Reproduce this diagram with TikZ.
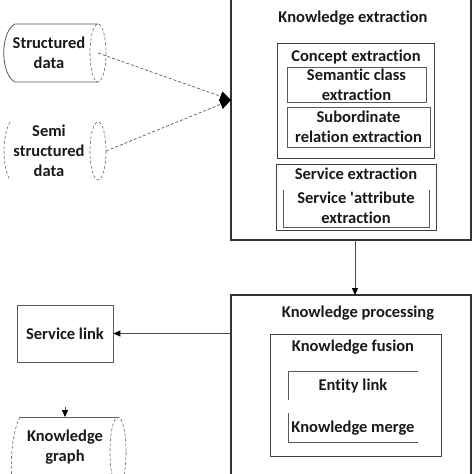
\documentclass[tikz,border=0pt]{standalone}
\usepackage{fontspec}
\setmainfont{Carlito}[Ligatures=NoCommon]
\usetikzlibrary{arrows.meta}
\tikzset{
  every node/.style={font=\bfseries\fontsize{16.5}{20}\selectfont,align=center,inner sep=0pt,text=black!90},
  bigbox/.style={draw=black!80,line width=1.4pt},
  box/.style={draw=black!75,line width=1pt},
  thinbox/.style={draw=black!65,line width=0.8pt},
  lens/.style={draw=black!60,line width=0.6pt,dash pattern=on 3pt off 2pt},
  dasharrow/.style={draw=black!65,line width=0.7pt,dash pattern=on 3pt off 2pt},
  flow/.style={draw=black!70,line width=0.9pt,-{Triangle[length=7pt,width=6pt,color=black]}}
}
\begin{document}
\begin{tikzpicture}[x=1pt,y=-1pt]
\useasboundingbox (0,0) rectangle (474,474);
\clip (0,0) rectangle (474,474);
% data stores
\draw[thinbox] (98,24) -- (15,24) .. controls (0,32) and (0,74) .. (15,82) -- (98,82);
\draw[lens] (98,53) ellipse [x radius=8,y radius=29];
\node (structured) at (49,53) {Structured\\data};
\coordinate (structuredout) at (98,53);
\draw[lens] (10,122) .. controls (2,136) and (2,166) .. (10,180);
\draw[lens] (98,151) ellipse [x radius=8,y radius=29];
\node (semi) at (49,151) {Semi\\structured\\data};
\coordinate (semiout) at (106,151);
%-------------
% knowledge extraction
\node[bigbox,minimum width=240,minimum height=245] (extract) at (351,117.5) {};
\node (extracttitle) at (353,18) {Knowledge extraction};
\coordinate (extractin) at (231,100);
\node[box,minimum width=157,minimum height=115] (concept) at (355.5,100.5) {};
\node (concepttitle) at (356,57) {Concept extraction};
\node[thinbox,minimum width=139,minimum height=35] (semantic) at (356.5,84.5) {};
\node at (semantic) {Semantic class\\extraction};
\node[thinbox,minimum width=143,minimum height=40] (subordinate) at (358.5,127) {};
\node at (subordinate) {Subordinate\\relation extraction};
\node[box,minimum width=160,minimum height=66] (service) at (356,197) {};
\node (servicetitle) at (356,174) {Service extraction};
\draw[thinbox] (283,190) -- (283,227) -- (429,227) -- (429,190);
\node (attribute) at (356,208) {Service \textquotesingle attribute\\extraction};
%-------------
% knowledge processing
\node[bigbox,minimum width=240,minimum height=200] (process) at (351,395) {};
\node (processtitle) at (358,313) {Knowledge processing};
\node[box,minimum width=171,minimum height=122] (fusion) at (355.5,395) {};
\node (fusiontitle) at (353,347) {Knowledge fusion};
\draw[thinbox] (418,371) -- (288,371) -- (288,400);
\draw[thinbox] (288,413) -- (288,442) -- (418,442);
\node (entity) at (353,386) {Entity link};
\node (merge) at (353,428) {Knowledge merge};
%-------------
% outputs
\node[thinbox,minimum width=96,minimum height=57] (link) at (65,333.5) {};
\node at (link) {Service link};
\draw[thinbox] (20,417) -- (118,417);
\draw[lens] (20,417) .. controls (12,432) and (10,462) .. (12,480);
\draw[lens] (118,452) ellipse [x radius=8,y radius=35];
\node (graph) at (65,447) {Knowledge\\graph};
\coordinate (graphin) at (65,417);
\coordinate (graphabove) at (65,407);
%-------------
\foreach \from in {structuredout,semiout}
\draw[dasharrow,-{Triangle[length=11pt,width=10pt,color=black]}] (\from) -- (extractin);
\draw[flow] (355,240) -- (355,295);
\draw[flow] (link.east -| process.west) -- (link.east);
\draw[flow] (graphabove) -- (graphin);
\end{tikzpicture}
\end{document}
